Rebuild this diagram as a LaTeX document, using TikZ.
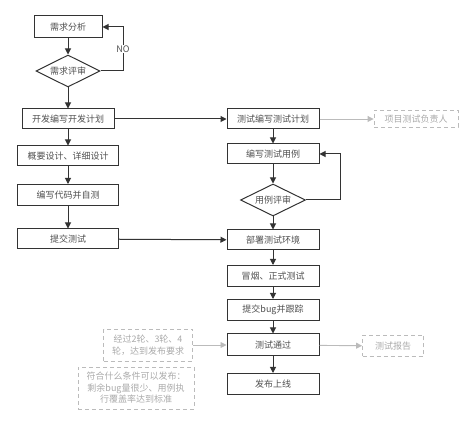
\documentclass[tikz,border=0pt]{standalone}
\usepackage{fontspec}
\setmainfont{Noto Sans CJK SC}
\usetikzlibrary{shapes.geometric,arrows.meta}
\definecolor{lineclr}{HTML}{333333}
\definecolor{textclr}{HTML}{505050}
\definecolor{paleclr}{HTML}{BBBBBB}
\definecolor{paletext}{HTML}{AAAAAA}
\begin{document}
\begin{tikzpicture}[x=1pt, y=-1pt,
  font=\fontsize{9}{11.5}\selectfont,
  every node/.style={text=textclr},
  stepbox/.style={draw=lineclr, line width=1pt, rectangle, minimum width=92pt, minimum height=20pt, inner sep=0pt},
  check/.style={draw=lineclr, line width=1pt, diamond, aspect=2, minimum width=64pt, minimum height=32pt, inner sep=0pt},
  note/.style={draw=paleclr, line width=0.9pt, dash pattern=on 4pt off 3pt, rectangle, text=paletext, inner sep=0pt, align=center},
  arr/.style={draw=lineclr, line width=1pt, -{Triangle[length=6pt,width=6pt]}},
  palearr/.style={draw=paleclr, line width=0.9pt, -{Triangle[length=6pt,width=6pt]}}]
\useasboundingbox (0,0) rectangle (474,427);

\node[stepbox, minimum width=68pt, minimum height=22pt] (req) at (68, 27) {需求分析};
\node[check] (reqrev) at (68, 71) {需求评审};

\node[stepbox] (devplan) at (68, 119) {开发编写开发计划};
\node[stepbox, minimum width=101pt] (design) at (68, 156) {概要设计、详细设计};
\node[stepbox, minimum width=101pt, minimum height=21pt] (code) at (68, 195) {编写代码并自测};
\node[stepbox, minimum width=101pt] (submit) at (68, 239) {提交测试};

\node[stepbox] (testplan) at (273, 119) {测试编写测试计划};
\node[note, minimum width=84pt, minimum height=17pt] (owner) at (416, 119) {项目测试负责人};
\node[stepbox] (cases) at (273, 154) {编写测试用例};
\node[check, minimum width=65pt] (caserev) at (273, 200) {用例评审};
\node[stepbox] (deploy) at (273, 240) {部署测试环境};
\node[stepbox, minimum height=21pt] (smoke) at (273, 276) {冒烟、正式测试};
\node[stepbox, minimum height=21pt] (bug) at (273, 310) {提交bug并跟踪};
\node[stepbox, minimum height=22pt] (pass) at (273, 345) {测试通过};
\node[note, minimum width=61pt, minimum height=21pt] (report) at (393, 346) {测试报告};
\node[stepbox, minimum height=21pt] (release) at (273, 384) {发布上线};

\node[note, minimum width=89pt, minimum height=32pt, text width=82pt] (rounds) at (148, 345) {经过2轮、3轮、4\\轮，达到发布要求};
\node[note, minimum width=116pt, minimum height=42pt, text width=112pt] (cond) at (136, 388) {符合什么条件可以发布：\\剩余bug量很少、用例执\\行覆盖率达到标准};

\coordinate (noturn) at (123, 71);
\coordinate (caseturn) at (340, 200);

\draw[arr] (req) -- (reqrev);
\draw[arr] (reqrev.east) -- (noturn) |- node[pos=0.25, fill=white, inner sep=1pt] {NO} (req.east);
\draw[arr] (reqrev) -- (devplan);
\draw[arr] (devplan) -- (design);
\draw[arr] (design) -- (code);
\draw[arr] (code) -- (submit);

\draw[arr] (devplan) -- (testplan);
\draw[arr] (submit) -- (deploy);

\draw[arr] (testplan) -- (cases);
\draw[arr] (cases) -- (caserev);
\draw[arr] (caserev.east) -- (caseturn) |- (cases.east);
\draw[arr] (caserev) -- (deploy);
\draw[arr] (deploy) -- (smoke);
\draw[arr] (smoke) -- (bug);
\draw[arr] (bug) -- (pass);
\draw[arr] (pass) -- (release);

\draw[palearr] (testplan) -- (owner);
\draw[palearr] (pass) -- (report);
\draw[palearr] (rounds) -- (pass);
\end{tikzpicture}
\end{document}
